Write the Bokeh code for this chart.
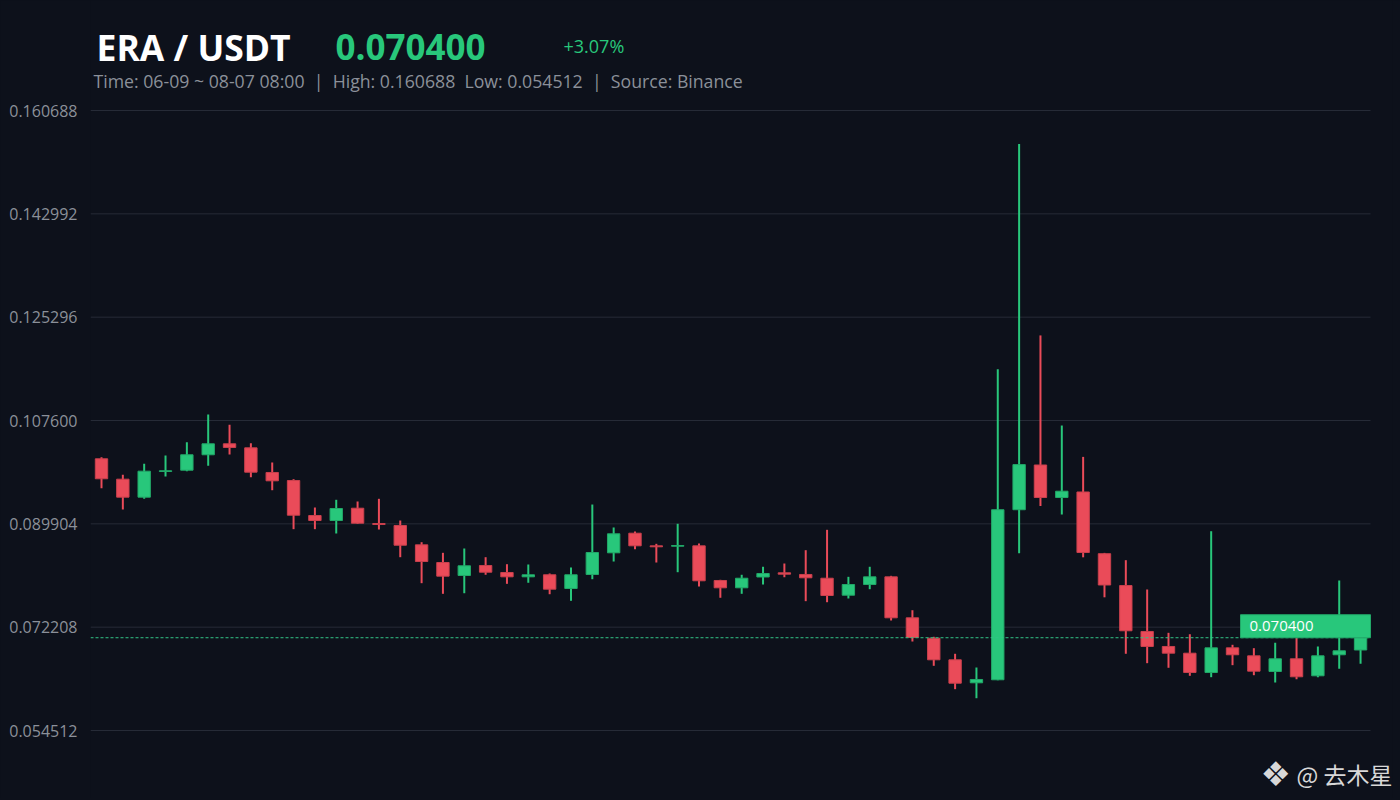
from bokeh.plotting import figure
from bokeh.models import FixedTicker, PrintfTickFormatter, ColumnDataSource, Range1d
from bokeh.embed import file_html
from bokeh.resources import INLINE
from bokeh.core.properties import value

# ---------------- data ----------------
symbol = "ERA / USDT"
last_price = 0.070400
change_text = "+3.07%"
subtitle = "Time: 06-09 ~ 08-07 08:00\u00a0 |\u00a0 High: 0.160688\u00a0 Low: 0.054512\u00a0 |\u00a0 Source: Binance"
watermark = "@ 去木星"
y_ticks = [0.054512, 0.072208, 0.089904, 0.107600, 0.125296, 0.142992, 0.160688]

opens = [0.10104, 0.09755, 0.09447, 0.09887, 0.09909, 0.10173, 0.10361, 0.10292, 0.09870, 0.09732,
         0.09133, 0.09047, 0.09258, 0.08996, 0.08962, 0.08631, 0.08328, 0.08106, 0.08277, 0.08157,
         0.08083, 0.08118, 0.07883, 0.08123, 0.08494, 0.08830, 0.08614, 0.08607, 0.08614, 0.08020,
         0.07895, 0.08080, 0.08152, 0.08123, 0.08059, 0.07768, 0.07951, 0.08083, 0.07381, 0.07032,
         0.06662, 0.06268, 0.06320, 0.09232, 0.09998, 0.09441, 0.09536, 0.08479, 0.07934, 0.07147,
         0.06890, 0.06775, 0.06444, 0.06867, 0.06730, 0.06462, 0.06679, 0.06388, 0.06748, 0.06830]
highs = [0.10132, 0.09830, 0.10018, 0.10161, 0.10388, 0.10863, 0.10686, 0.10371, 0.10041, 0.09755,
         0.09270, 0.09402, 0.09373, 0.09419, 0.09047, 0.08676, 0.08494, 0.08568, 0.08419, 0.08299,
         0.08294, 0.08140, 0.08243, 0.09321, 0.08928, 0.08859, 0.08648, 0.08991, 0.08654, 0.08032,
         0.08118, 0.08255, 0.08311, 0.08539, 0.08888, 0.08083, 0.08255, 0.08100, 0.07511, 0.07056,
         0.06765, 0.06530, 0.11637, 0.15493, 0.12217, 0.10674, 0.10137, 0.08493, 0.08368, 0.07866,
         0.07124, 0.07100, 0.08864, 0.06919, 0.06861, 0.06953, 0.07039, 0.06890, 0.08020, 0.07070]
lows = [0.09601, 0.09236, 0.09419, 0.09801, 0.09892, 0.09984, 0.10178, 0.09789, 0.09566, 0.08899,
        0.08899, 0.08825, 0.08991, 0.08893, 0.08419, 0.07974, 0.07792, 0.07802, 0.08118, 0.07963,
        0.07981, 0.07785, 0.07672, 0.08042, 0.08345, 0.08556, 0.08328, 0.08162, 0.07917, 0.07724,
        0.07792, 0.07951, 0.08076, 0.07666, 0.07648, 0.07712, 0.07871, 0.07335, 0.06975, 0.06559,
        0.06159, 0.06004, 0.06310, 0.08486, 0.09296, 0.09150, 0.08417, 0.07732, 0.06765, 0.06604,
        0.06525, 0.06388, 0.06364, 0.06570, 0.06398, 0.06273, 0.06330, 0.06364, 0.06508, 0.06593]
closes = [0.09762, 0.09447, 0.09892, 0.09899, 0.10173, 0.10361, 0.10298, 0.09875, 0.09727, 0.09138,
          0.09047, 0.09253, 0.09001, 0.08979, 0.08624, 0.08345, 0.08094, 0.08272, 0.08162, 0.08083,
          0.08118, 0.07871, 0.08118, 0.08499, 0.08820, 0.08614, 0.08597, 0.08619, 0.08015, 0.07895,
          0.08059, 0.08140, 0.08128, 0.08066, 0.07763, 0.07951, 0.08083, 0.07381, 0.07044, 0.06662,
          0.06261, 0.06325, 0.09232, 0.10005, 0.09441, 0.09549, 0.08499, 0.07943, 0.07159, 0.06890,
          0.06775, 0.06444, 0.06867, 0.06748, 0.06467, 0.06679, 0.06371, 0.06730, 0.06816, 0.07040]

# ---------------- style / geometry ----------------
BG = "#0d111b"
GREEN = "#28c77b"
GREEN_EDGE = "#22a868"
RED = "#ea4b59"
RED_EDGE = "#c9404d"
GRID = "#262b37"
MUTED = "#8b9099"
FONT = "Open Sans"

W, H = 1400, 798
FL, FR = 90, 8                  # frame spans page x 90 .. 1392, full height
PLOT_RIGHT = 1370               # gridlines / price tag end here
step_px = 21.34                 # px per candle
first_px = 11                   # first candle offset from frame left
v_per_px = (y_ticks[-1] - y_ticks[0]) / 620.0
top_tick_px = 110               # page y of the highest tick

x0 = -first_px / step_px
x1 = x0 + (W - FL - FR) / step_px
y_top = y_ticks[-1] + top_tick_px * v_per_px
y_bot = y_top - H * v_per_px


def X(px):
    return x0 + (px - FL) / step_px


def Y(py):
    return y_top - py * v_per_px


n = len(opens)
idx = list(range(n))
is_up = [c >= o for o, c in zip(opens, closes)]
colors = [GREEN if u else RED for u in is_up]
edges = [GREEN_EDGE if u else RED_EDGE for u in is_up]
tops = [max(o, c) for o, c in zip(opens, closes)]
bots = [min(o, c) for o, c in zip(opens, closes)]
src = ColumnDataSource(dict(x=idx, top=tops, bottom=bots, high=highs, low=lows,
                            color=colors, edge=edges))

p = figure(width=W, height=H, output_backend="svg", toolbar_location=None,
           x_range=Range1d(x0, x1), y_range=Range1d(y_bot, y_top),
           min_border_left=FL, min_border_right=FR, min_border_top=0, min_border_bottom=0)
p.background_fill_color = BG
p.border_fill_color = BG
p.outline_line_color = None

p.xaxis.visible = False
p.grid.visible = False
p.yaxis.ticker = FixedTicker(ticks=y_ticks)
p.yaxis.formatter = PrintfTickFormatter(format="%.6f")
p.yaxis.axis_line_color = None
p.yaxis.major_tick_line_color = None
p.yaxis.minor_tick_line_color = None
p.yaxis.major_tick_out = 0
p.yaxis.major_label_standoff = 13
p.yaxis.major_label_text_color = MUTED
p.yaxis.major_label_text_font = FONT
p.yaxis.major_label_text_font_size = "16px"

# horizontal gridlines at the tick values, ending at the plot's right edge
p.segment(x0=[X(FL)] * len(y_ticks), x1=[X(PLOT_RIGHT)] * len(y_ticks), y0=y_ticks, y1=y_ticks,
          line_color=GRID, line_width=1)

# candles
p.segment(x0="x", y0="high", x1="x", y1="low", source=src, line_color="color", line_width=2)
p.vbar(x="x", top="top", bottom="bottom", width=0.58, source=src,
       fill_color="color", line_color="edge", line_width=1)

# last price line and tag
p.segment(x0=[X(FL)], x1=[X(PLOT_RIGHT)], y0=[last_price], y1=[last_price],
          line_color="#33c586", line_dash="3 2", line_width=1)
p.quad(left=[X(1240)], right=[X(PLOT_RIGHT)], bottom=[last_price], top=[last_price + 23 * v_per_px],
       fill_color=GREEN, line_color=GREEN_EDGE)
p.text(x=[X(1249)], y=[last_price + 11.5 * v_per_px], text=[f"{last_price:.6f}"],
       text_color="#ffffff", text_font=value(FONT), text_font_size="15px",
       text_baseline="middle", text_align="left")


def txt(px, py, s, size, color, style="normal", font=FONT):
    p.text(x=[X(px)], y=[Y(py)], text=[s], text_color=color, text_font=value(font),
           text_font_size=size, text_font_style=style,
           text_baseline="middle", text_align="left")


# header
txt(96, 46, symbol, "35.5px", "#ffffff", "bold")
txt(335, 46, f"{last_price:.6f}", "35px", GREEN, "bold")
txt(563, 45, change_text, "18px", GREEN)
txt(93, 80, subtitle, "17.7px", MUTED)

# watermark
txt(1260, 773, "\u2756", "34px", "#d8d8d8", font="DejaVu Sans")
txt(1296, 773, watermark, "23px", "#d8d8d8", font="Noto Sans CJK SC")

html = file_html(p, INLINE)
html = html.replace("</head>", "<style>html,body{background:%s;}</style></head>" % BG, 1)
open("out.html", "w").write(html)
